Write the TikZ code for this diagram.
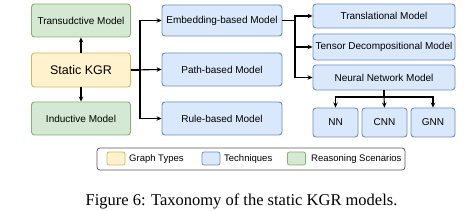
\documentclass[tikz,border=0pt]{standalone}
\usepackage{fontspec}
\setmainfont{Liberation Serif}
\newfontfamily\boxfont{Liberation Sans}
\usetikzlibrary{arrows.meta}
\definecolor{yfill}{HTML}{FFF2CC}\definecolor{ydraw}{HTML}{D6B656}
\definecolor{bfill}{HTML}{DAE8FC}\definecolor{bdraw}{HTML}{6C8EBF}
\definecolor{gfill}{HTML}{D5E8D4}\definecolor{gdraw}{HTML}{82B366}
\tikzset{
  base/.style={rounded corners=3pt, line width=0.9pt, inner sep=0pt, align=center, font=\boxfont\fontsize{10}{11}\selectfont},
  ybox/.style={base, fill=yfill, draw=ydraw},
  bbox/.style={base, fill=bfill, draw=bdraw},
  gbox/.style={base, fill=gfill, draw=gdraw},
  arr/.style={line width=1.1pt, -{Stealth[length=5pt,width=4.5pt]}},
  leg/.style={rounded corners=2pt, line width=0.8pt, minimum width=18pt, minimum height=13pt, inner sep=0pt},
  legtext/.style={anchor=west, inner sep=0pt, font=\boxfont\fontsize{9.5}{10}\selectfont}
}
\begin{document}
\begin{tikzpicture}[x=1pt,y=-1pt]
\useasboundingbox (0,0) rectangle (474,211);
% left column
\node[gbox, minimum width=99pt, minimum height=33pt] (trans) at (81,20.5) {Transudctive Model};
\node[ybox, minimum width=99pt, minimum height=34pt, font=\boxfont\fontsize{12.5}{13}\selectfont] (static) at (81,70) {Static KGR};
\node[gbox, minimum width=99pt, minimum height=33pt] (ind) at (81,118.5) {Inductive Model};
% middle column
\node[bbox, minimum width=120pt, minimum height=31pt] (emb) at (222,20.5) {Embedding-based Model};
\node[bbox, minimum width=120pt, minimum height=33pt] (path) at (222,69.5) {Path-based Model};
\node[bbox, minimum width=120pt, minimum height=33pt] (rule) at (222,118.5) {Rule-based Model};
% right column
\node[bbox, minimum width=142pt, minimum height=24pt] (trl) at (384,16) {Translational Model};
\node[bbox, minimum width=142pt, minimum height=26pt] (ten) at (384,47) {Tensor Decompositional Model};
\node[bbox, minimum width=142pt, minimum height=25pt] (neu) at (384,77.5) {Neural Network Model};
\node[bbox, minimum width=45pt, minimum height=29pt] (nn) at (335.5,122.5) {NN};
\node[bbox, minimum width=45pt, minimum height=29pt] (cnn) at (384.5,122.5) {CNN};
\node[bbox, minimum width=44pt, minimum height=29pt] (gnn) at (433,122.5) {GNN};
% connectors
\draw[arr] (static.north) -- (trans.south);
\draw[arr] (static.south) -- (ind.north);
\coordinate (s1) at (140,70);
\draw[line width=1.1pt] (static.east) -- (s1);
\draw[arr] (s1) |- (emb.west);
\draw[arr] (static.east) -- (path.west);
\draw[arr] (s1) |- (rule.west);
\coordinate (e1) at (295,20.5);
\draw[line width=1.1pt] (emb.east) -- (e1);
\draw[arr] (e1) |- (trl.west);
\draw[arr] (e1) |- (ten.west);
\draw[arr] (e1) |- (neu.west);
\coordinate (n1) at (384,97);
\draw[line width=1.1pt] (neu.south) -- (n1);
\draw[arr] (n1) -| (nn.north);
\draw[arr] (n1) -- (cnn.north);
\draw[arr] (n1) -| (gnn.north);
% legend
\node[draw=gray!70!black, rounded corners=3pt, line width=0.8pt, minimum width=308pt, minimum height=22pt, inner sep=0pt] (legend) at (251,159) {};
\node[leg, fill=yfill, draw=ydraw] (ly) at (116,158.5) {};
\node[legtext] (lyt) at (129,159) {Graph Types};
\node[leg, fill=bfill, draw=bdraw] (lb) at (211,158.5) {};
\node[legtext] (lbt) at (224,159) {Techniques};
\node[leg, fill=gfill, draw=gdraw] (lg) at (296.5,158.5) {};
\node[legtext] (lgt) at (311,159) {Reasoning Scenarios};
% caption
\node[font=\fontsize{16.5}{18}\selectfont, inner sep=0pt] (cap) at (241.5,201) {Figure 6: Taxonomy of the static KGR models.};
\end{tikzpicture}
\end{document}
